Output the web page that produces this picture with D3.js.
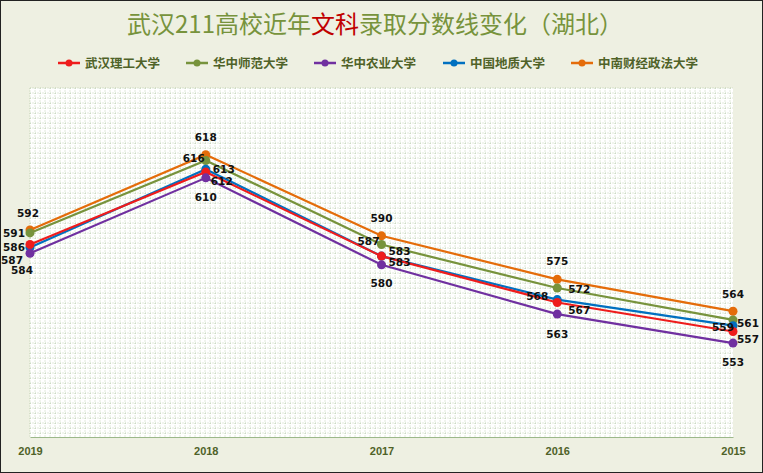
<!DOCTYPE html>
<html><head><meta charset="utf-8">
<script src="https://cdn.jsdelivr.net/npm/d3@7"></script>
<style>body{margin:0;background:#fff}</style>
</head><body>
<svg id="c" width="763" height="473"></svg>
<script>
var years = ["2019", "2018", "2017", "2016", "2015"];
var schools = ["武汉理工大学", "华中师范大学", "华中农业大学", "中国地质大学", "中南财经政法大学"];
var colors = ["#ee1c1c", "#77933c", "#7030a0", "#0070c0", "#e46c0a"];
var whut = [587, 612, 583, 567, 557];
var ccnu = [591, 616, 587, 572, 561];
var hzau = [584, 610, 580, 563, 553];
var cug = [586, 613, 583, 568, 559];
var zuel = [592, 618, 590, 575, 564];
var series = [whut, ccnu, hzau, cug, zuel];
// label offsets (centre of text relative to point)
var labelPos = [
  [[-18, 15], [16, 9], [18, 6], [22, 7], [15, 8]],
  [[-16, 0], [-12, -2], [-13, -4], [22, 1], [15, 3]],
  [[-8, 17], [0, 19], [0, 18], [0, 20], [0, 19]],
  [[-16, 0], [18, 0], [18, -5], [-20, -4], [-10, 1]],
  [[-2, -17], [0, -18], [0, -18], [0, -18], [0, -17]]
];

var svg = d3.select("#c");
svg.append("rect").attr("x", 0.5).attr("y", 0.5).attr("width", 762).attr("height", 472)
  .attr("fill", "#eef0e2").attr("stroke", "#222");

var m = { top: 88, left: 30, right: 30, bottom: 36 },
    w = 763 - m.left - m.right, h = 473 - m.top - m.bottom;
var g = svg.append("g").attr("transform", `translate(${m.left},${m.top})`);

var x = d3.scalePoint().domain(years).range([0, w]);
var y = d3.scaleLinear().domain([520.6, 641]).range([h, 0]);

g.append("rect").attr("width", w).attr("height", h).attr("fill", "#ffffff");
// dotted grid
var gx = d3.range(0, w + 0.1, 5), gy = d3.range(0, h + 0.1, 5);
g.selectAll(".vg").data(gx).join("line").attr("x1", d => d).attr("x2", d => d)
  .attr("y1", 0).attr("y2", h).attr("stroke", "#9cb88a").attr("stroke-width", 0.6).attr("stroke-dasharray", "1,1.5");
g.selectAll(".hg").data(gy).join("line").attr("y1", d => d).attr("y2", d => d)
  .attr("x1", 0).attr("x2", w).attr("stroke", "#9cb88a").attr("stroke-width", 0.6).attr("stroke-dasharray", "1,1.5");

g.append("g").attr("transform", `translate(0,${h})`)
  .call(d3.axisBottom(x).tickSize(0).tickPadding(10))
  .call(a => a.select(".domain").attr("stroke", "#9cb88a"))
  .call(a => a.selectAll("text").attr("fill", "#4f6228").attr("font-weight", "bold")
    .attr("font-size", 11).attr("font-family", "Liberation Sans"));

var line = d3.line().x((d, i) => x(years[i])).y(d => y(d));
var order = [4, 1, 3, 0, 2];
order.forEach(function (s) {
  g.append("path").datum(series[s]).attr("d", line).attr("fill", "none")
    .attr("stroke", colors[s]).attr("stroke-width", 2.2);
  g.selectAll(".p" + s).data(series[s]).join("circle")
    .attr("cx", (d, i) => x(years[i])).attr("cy", d => y(d)).attr("r", 4.5).attr("fill", colors[s]);
});
series.forEach(function (arr, s) {
  g.selectAll(".l" + s).data(arr).join("text")
    .attr("x", (d, i) => x(years[i]) + labelPos[s][i][0])
    .attr("y", (d, i) => y(d) + labelPos[s][i][1] + 4)
    .attr("text-anchor", "middle").attr("font-size", 10.5).attr("font-weight", "bold")
    .attr("font-family", "DejaVu Sans").attr("fill", "#111")
    .text(d => d);
});

// title
var t = svg.append("text").attr("x", 375).attr("y", 33).attr("text-anchor", "middle")
  .attr("font-size", 24).attr("font-family", "Noto Sans CJK SC").attr("fill", "#77933c");
t.append("tspan").text("武汉211高校近年");
t.append("tspan").attr("fill", "#c00000").text("文科");
t.append("tspan").text("录取分数线变化（湖北）");

// legend
var lx = [58, 186, 314, 443, 571];
schools.forEach(function (s, i) {
  var lg = svg.append("g").attr("transform", `translate(${lx[i]},63)`);
  lg.append("line").attr("x1", 0).attr("x2", 22).attr("stroke", colors[i]).attr("stroke-width", 2.5);
  lg.append("circle").attr("cx", 11).attr("r", 3.5).attr("fill", colors[i]);
  lg.append("text").attr("x", 27).attr("y", 5).attr("font-size", 12.5).attr("font-weight", "bold")
    .attr("font-family", "Noto Sans CJK SC").attr("fill", "#4f6228").text(s);
});
</script>
</body></html>
